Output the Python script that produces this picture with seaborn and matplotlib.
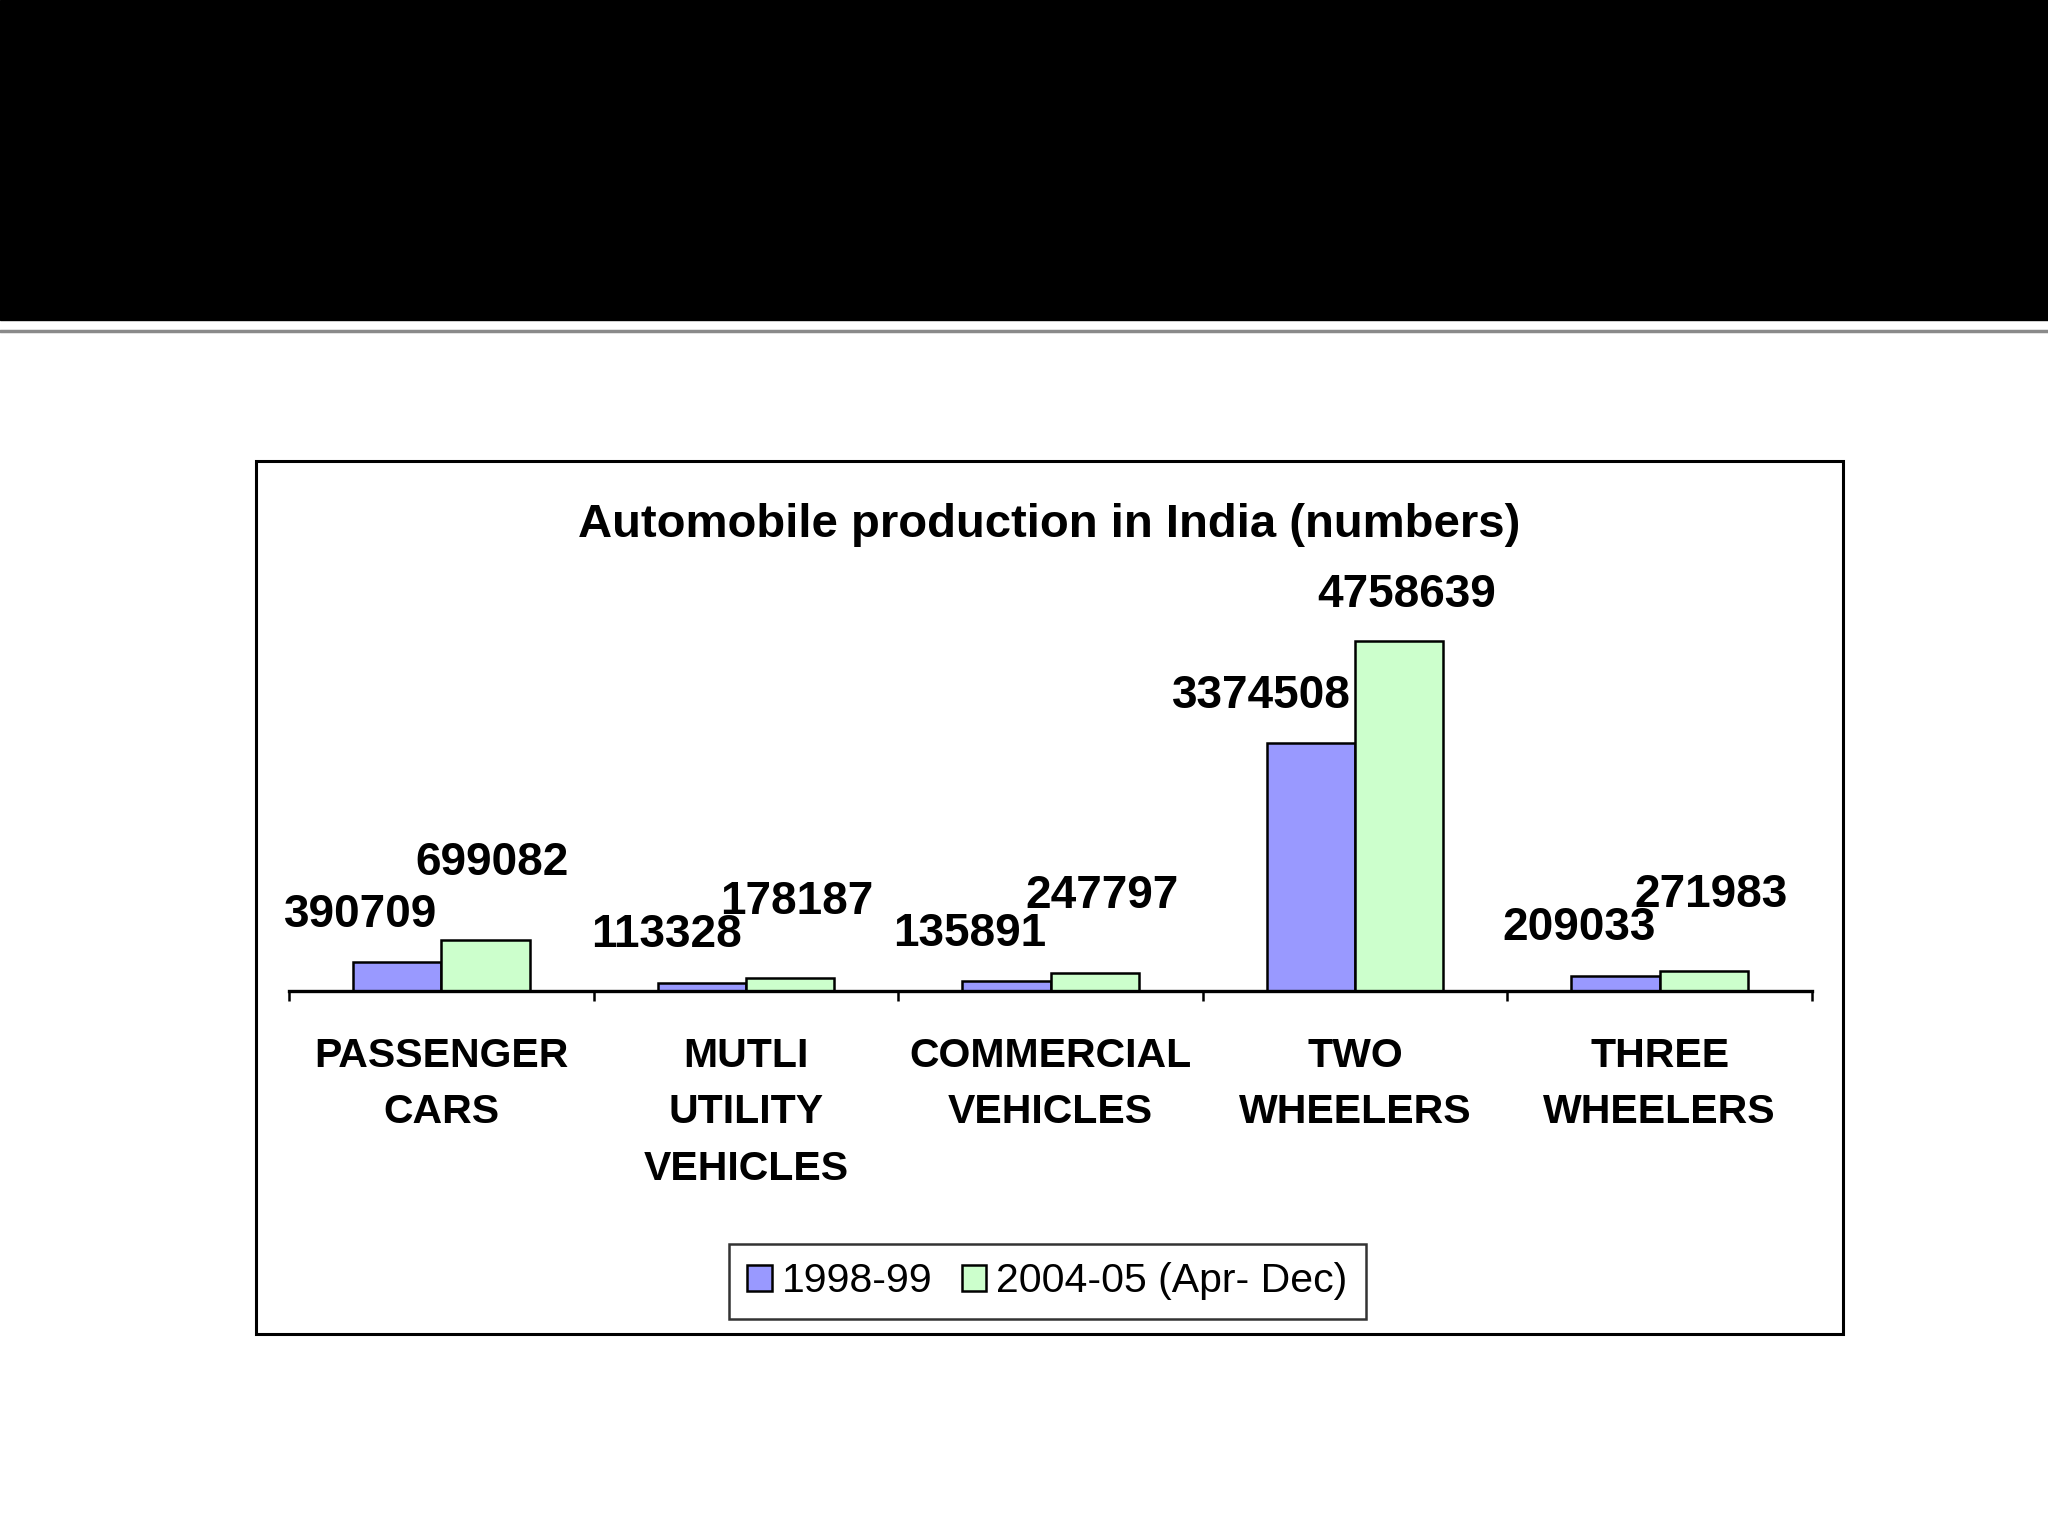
import pandas as pd
import matplotlib.pyplot as plt
import seaborn as sns
from matplotlib.patches import Rectangle
from matplotlib.lines import Line2D


# Datos del gráfico
categorias = ['PASSENGER\nCARS', 'MUTLI\nUTILITY\nVEHICLES', 'COMMERCIAL\nVEHICLES',
              'TWO\nWHEELERS', 'THREE\nWHEELERS']
periodos = ['1998-99', '2004-05 (Apr- Dec)']
produccion_9899 = [390709, 113328, 135891, 3374508, 209033]
produccion_0405 = [699082, 178187, 247797, 4758639, 271983]
colores = ['#9999FF', '#CCFFCC']

df = pd.DataFrame({
    'categoria': categorias * 2,
    'periodo': [periodos[0]] * len(categorias) + [periodos[1]] * len(categorias),
    'cantidad': produccion_9899 + produccion_0405,
})

sns.set_style('white')
plt.rcParams['font.family'] = ['Liberation Sans', 'DejaVu Sans']
plt.rcParams['text.color'] = 'black'
plt.rcParams['xtick.color'] = 'black'

fig = plt.figure(figsize=(20.48, 15.36), dpi=100)
fig.patch.set_facecolor('white')

# Banda negra de la diapositiva y línea gris
fig.patches.append(Rectangle((0, 1 - 320 / 1536), 1, 320 / 1536,
                             transform=fig.transFigure, color='black', zorder=0))
fig.lines.append(Line2D([0, 1], [1 - 331 / 1536] * 2, transform=fig.transFigure,
                        color='#8a8a8a', lw=2.5))

# Marco del gráfico
fig.patches.append(Rectangle((0.125, 0.1315), 0.7749, 0.5684, transform=fig.transFigure,
                             fill=False, edgecolor='black', lw=2.2))

ax = fig.add_axes([0.1411, 0.3548, 0.7437, 0.30])
ax.patch.set_alpha(0)
sns.barplot(data=df, x='categoria', y='cantidad', hue='periodo', palette=colores,
            saturation=1, width=0.58, edgecolor='black', linewidth=1.8, ax=ax)

handles, labels = ax.get_legend_handles_labels()
ax.get_legend().remove()

ymax = max(produccion_0405) * 1.317
ax.set_ylim(0, ymax)
ax.set_xlim(-0.5, len(categorias) - 0.5)
ax.set_xlabel('')
ax.set_ylabel('')
ax.set_yticks([])
for lado in ['left', 'right', 'top']:
    ax.spines[lado].set_visible(False)
ax.spines['bottom'].set_linewidth(2.4)
ax.spines['bottom'].set_color('black')

# Etiquetas de categoría y marcas entre categorías
ax.set_xticks(range(len(categorias)))
ax.set_xticklabels(categorias, fontsize=29.5, fontweight='bold', linespacing=1.62,
                   color='black')
ax.set_xticks([i - 0.5 for i in range(len(categorias) + 1)], minor=True)
ax.tick_params(axis='x', which='major', length=0, pad=33)
ax.tick_params(axis='x', which='minor', bottom=True, length=7, width=1.8,
               direction='out', color='black')

# Etiquetas de valores
verdes = ax.containers[1]
moradas = ax.containers[0]
for barra in moradas:
    alto = barra.get_height()
    ax.annotate(f'{alto:.0f}', (barra.get_x() + barra.get_width(), alto),
                xytext=(-3, 34), textcoords='offset points', ha='right', va='center',
                fontsize=33, fontweight='bold', color='black')
for barra, morada in zip(verdes, moradas):
    alto = barra.get_height()
    dy = 33 if (alto - morada.get_height()) / ymax > 0.1 else 55
    ax.annotate(f'{alto:.0f}', (barra.get_x() + barra.get_width() / 2, alto),
                xytext=(5, dy), textcoords='offset points', ha='center', va='center',
                fontsize=33, fontweight='bold', color='black')

fig.text(0.5122, 0.658, 'Automobile production in India (numbers)', ha='center', va='center',
         fontsize=34, fontweight='bold', color='black')

leg = fig.legend(handles, labels, loc='center', bbox_to_anchor=(0.5115, 0.1657), ncol=2,
                 fontsize=29.5, frameon=True, fancybox=False, edgecolor='black',
                 handlelength=0.6, handleheight=0.6, handletextpad=0.25,
                 columnspacing=0.7, borderpad=0.45)
leg.get_frame().set_linewidth(1.8)
for h in leg.legend_handles:
    h.set_edgecolor('black')
    h.set_linewidth(1.8)

fig.savefig('out.png', dpi=100)
plt.close(fig)
